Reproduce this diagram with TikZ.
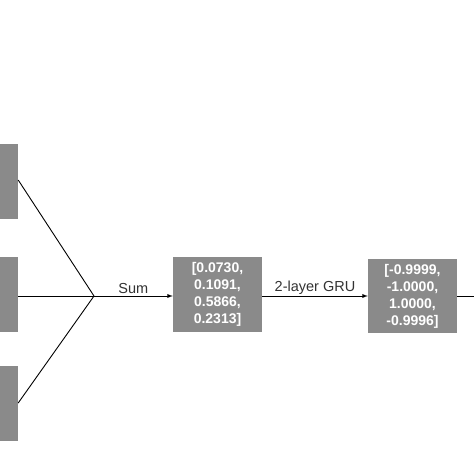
\documentclass[tikz,border=0pt]{standalone}
\usepackage{fontspec}
\setmainfont{Liberation Sans}
\definecolor{boxgray}{HTML}{8A8A8A}
\begin{document}
\begin{tikzpicture}[x=1pt,y=-1pt,
  vbox/.style={fill=boxgray,draw=none,text=white,align=center,inner sep=0pt,font=\fontsize{14}{17}\selectfont\bfseries},
  inbox/.style={fill=boxgray,draw=none,inner sep=0pt,minimum width=36pt,minimum height=75pt},
  conn/.style={draw=black,line width=0.9pt},
  lbl/.style={font=\fontsize{14.5}{17}\selectfont,text=black!80,inner sep=1.5pt}]
\useasboundingbox (0,0) rectangle (474,474);
\clip (0,0) rectangle (474,474);
\fill[white] (0,0) rectangle (474,474);
\node[inbox] (in1) at (0,181) {};
\node[inbox] (in2) at (0,294.5) {};
\node[inbox] (in3) at (0,403) {};
\coordinate (j) at (94,296);
\node[vbox,minimum width=89pt,minimum height=75pt] (v1) at (217.5,294.5) {[0.0730,\\0.1091,\\0.5866,\\0.2313]};
\node[vbox,minimum width=89pt,minimum height=74pt] (v2) at (412.5,296) {[-0.9999,\\-1.0000,\\1.0000,\\-0.9996]};
\coordinate (out) at (480,296);
\draw[conn] (in1.east |- 0,180) -- (j);
\draw[conn] (in2.east |- 0,296) -- (j);
\draw[conn] (in3.east) -- (j);
\draw[conn,-latex] (j) -- node[lbl,above,pos=0.5] {Sum} (v1.west |- j);
\draw[conn,-latex] (v1.east |- j) -- node[lbl,above] {2-layer GRU} (v2.west |- j);
\draw[conn] (v2.east |- j) -- (out);
\end{tikzpicture}
\end{document}
